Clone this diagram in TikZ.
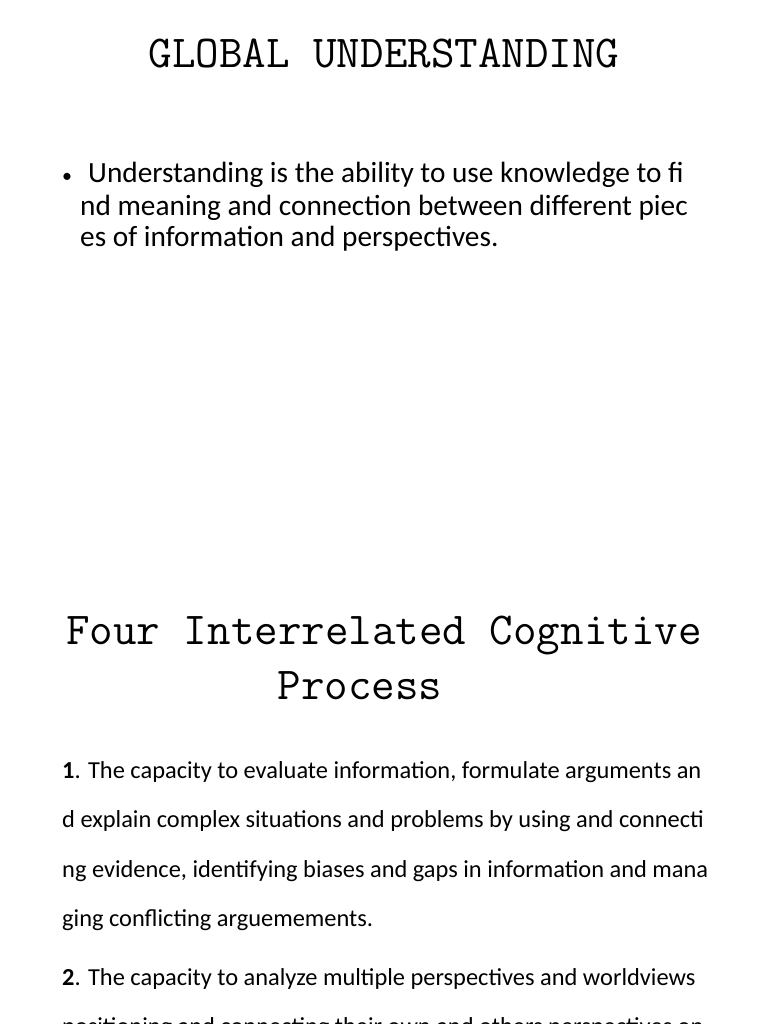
\documentclass[tikz,border=0pt]{standalone}
\usepackage{fontspec}
\setmainfont{Carlito}
\newfontfamily\ttl{Latin Modern Mono}
\begin{document}
\begin{tikzpicture}[x=1pt,y=-1pt,
  ttlstyle/.style={font=\ttl\fontsize{45.7}{50}\selectfont,inner sep=0pt},
  bul/.style={font=\fontsize{29.3}{32}\selectfont,anchor=base west,inner sep=0pt},
  par/.style={font=\fontsize{24.4}{28}\selectfont,anchor=base west,inner sep=0pt}]
\useasboundingbox (0,0) rectangle (768,1024);
\node[ttlstyle] (t1) at (384,53) {GLOBAL UNDERSTANDING};
\node[bul,font=\fontsize{20}{24}\selectfont] (b0) at (62,183) {•};
\node[bul] (b1) at (88,183) {Understanding is the ability to use knowledge to fi};
\node[bul] (b2) at (80,215) {nd meaning and connection between different piec};
\node[bul] (b3) at (80,247) {es of information and perspectives.};
\node[ttlstyle] (t2) at (384,635) {Four Interrelated Cognitive};
\node[ttlstyle] (t3) at (360,686) {Process};
\node[par] (p1) at (62,778) {\textbf{1}. The capacity to evaluate information, formulate arguments an};
\node[par] (p2) at (62,827) {d explain complex situations and problems by using and connecti};
\node[par] (p3) at (62,877) {ng evidence, identifying biases and gaps in information and mana};
\node[par] (p4) at (62,926) {ging conflicting arguemements.};
\node[par] (p5) at (62,985) {\textbf{2}. The capacity to analyze multiple perspectives and worldviews};
\node[par] (p6) at (62,1034) {positioning and connecting their own and others perspectives on};
\end{tikzpicture}
\end{document}
